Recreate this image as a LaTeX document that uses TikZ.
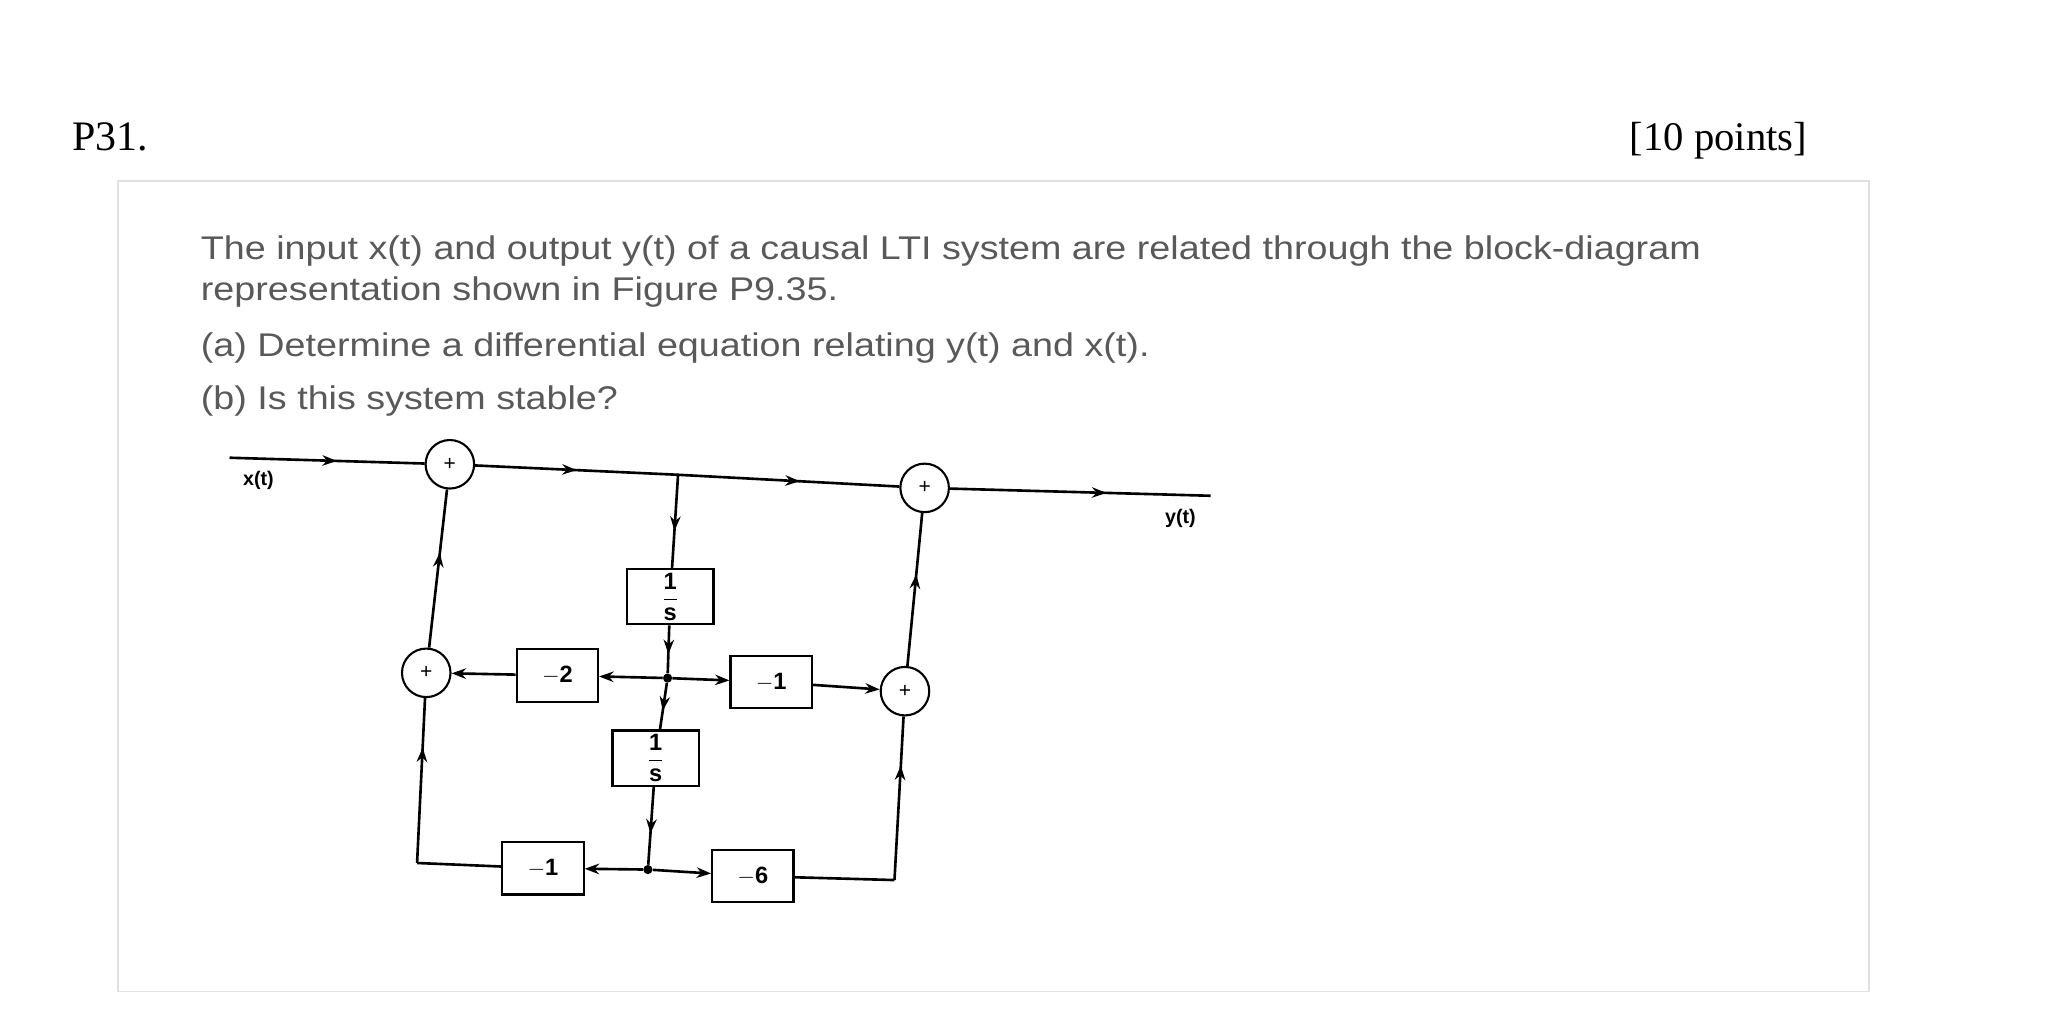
\documentclass[tikz,border=0pt]{standalone}
\usepackage{fontspec}
\usepackage{graphicx}
\setmainfont{Liberation Serif}
\newfontfamily\arialf{Liberation Sans}
\usetikzlibrary{decorations.markings,arrows.meta}
\newcommand{\wide}[1]{\scalebox{1.15}[1]{#1}}
\newcommand{\ovs}{$\displaystyle\frac{\hbox{1}}{\hbox{s}}$}
\begin{document}
\begin{tikzpicture}[x=1pt,y=-1pt,
  ln/.style={line width=2pt},
  tip/.style={-{Stealth[length=11pt,width=8pt]}},
  mid/.style={ln,postaction={decorate},decoration={markings,mark=at position #1 with {\arrow{Stealth[length=11pt,width=8pt]}}}},
  sumn/.style={circle,draw,line width=1.6pt,minimum size=37pt,inner sep=0pt,font=\arialf\fontsize{16}{16}\selectfont},
  blk/.style={draw,line width=1.6pt,minimum width=66pt,minimum height=42pt,inner sep=0pt,font=\arialf\bfseries\fontsize{18}{18}\selectfont},
  txt/.style={font=\arialf\fontsize{25}{25}\selectfont,text=black!65,anchor=base west,inner sep=0pt},
  dot/.style={circle,fill,inner sep=0pt,minimum size=7pt}]
\useasboundingbox (0,0) rectangle (1560,789);
\node[anchor=base west,inner sep=0pt,font=\fontsize{32}{32}\selectfont] (p) at (55,115) {P31.};
\node[anchor=base east,inner sep=0pt,font=\fontsize{31}{31}\selectfont] (pts) at (1378,115) {[10 points]};
\draw[black!12,line width=1.2pt] (90,138) rectangle (1425,756);
\node[txt] (l1) at (153,198) {\wide{The input x(t) and output y(t) of a causal LTI system are related through the block-diagram}};
\node[txt] (l2) at (153,229) {\wide{representation shown in Figure P9.35.}};
\node[txt] (l3) at (153,272) {\wide{(a) Determine a differential equation relating y(t) and x(t).}};
\node[txt] (l4) at (153,312) {\wide{(b) Is this system stable?}};
% diagram
\node[sumn] (s1) at (343,354) {+};
\node[sumn] (s2) at (705,372) {+};
\node[sumn] (s3) at (325,513) {+};
\node[sumn] (s4) at (690,527) {+};
\node[blk] (i1) at (511,455) {\ovs};
\node[blk] (i2) at (500,578) {\ovs};
\node[blk,minimum width=62pt,minimum height=40pt] (g2) at (425,515) {$-$2};
\node[blk,minimum width=62pt,minimum height=40pt] (g1) at (588,520) {$-$1};
\node[blk,minimum width=62pt,minimum height=40pt] (h1) at (414,662) {$-$1};
\node[blk,minimum width=62pt,minimum height=40pt] (h6) at (574,668) {$-$6};
\coordinate (xin) at (175,349);
\coordinate (yout) at (923,378);
\coordinate (br) at (517,362);
\node[dot] (m) at (509,517) {};
\node[dot] (b) at (494,663) {};
\coordinate (bl) at (318,658);
\coordinate (brc) at (682,671);
\node[font=\arialf\bfseries\fontsize{15}{15}\selectfont] (xl) at (197,366) {x(t)};
\node[font=\arialf\bfseries\fontsize{15}{15}\selectfont] (yl) at (900,395) {y(t)};
\draw[mid=0.55] (xin) -- (s1);
\draw[mid=0.5] (s1) -- (br);
\draw[mid=0.55] (br) -- (s2);
\draw[mid=0.6] (s2) -- (yout);
\draw[mid=0.6] (br) -- (i1);
\draw[mid=0.6] (i1) -- (m);
\draw[mid=0.6] (m) -- (i2);
\draw[mid=0.6] (i2) -- (b);
\draw[ln,tip] (m) -- (g2);
\draw[ln,tip] (g2) -- (s3);
\draw[ln,tip] (m) -- (g1);
\draw[ln,tip] (g1) -- (s4);
\draw[ln,tip] (b) -- (h1);
\draw[ln,tip] (b) -- (h6);
\draw[mid=0.6] (s3) -- (s1);
\draw[mid=0.6] (s4) -- (s2);
\draw[ln] (h1) -- (bl);
\draw[mid=0.7] (bl) -- (s3);
\draw[ln] (h6) -- (brc);
\draw[mid=0.7] (brc) -- (s4);
\end{tikzpicture}
\end{document}
